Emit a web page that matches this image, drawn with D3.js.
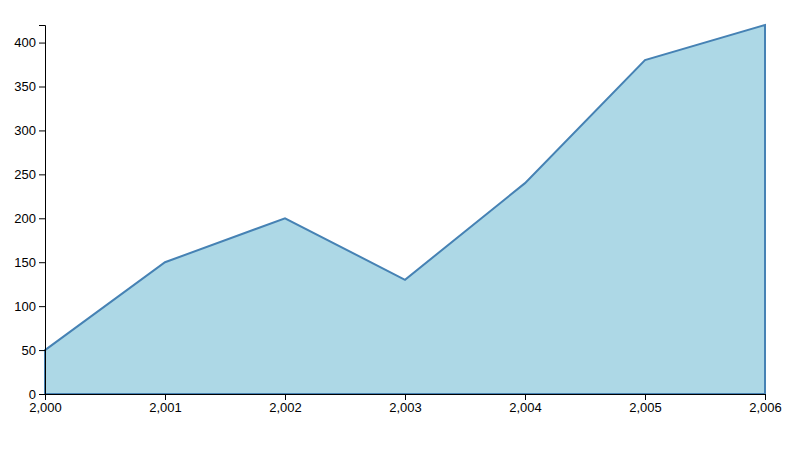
<!DOCTYPE html>
<html>
<head>
<meta charset="utf-8">
<script src="https://cdn.jsdelivr.net/npm/d3@7"></script>
<style>
  body { margin: 0; background: #fff; }
</style>
</head>
<body>
<div id="chart"></div>
<script>
  const years = [2000, 2001, 2002, 2003, 2004, 2005, 2006];
  const values = [50, 150, 200, 130, 240, 380, 420];

  const margin = { top: 25, right: 35, bottom: 56, left: 45 };
  const width = 800 - margin.left - margin.right;
  const height = 450 - margin.top - margin.bottom;

  const data = years.map((y, i) => ({ year: y, value: values[i] }));

  const svg = d3
    .select("#chart")
    .append("svg")
    .attr("width", 800)
    .attr("height", 450)
    .append("g")
    .attr("transform", `translate(${margin.left},${margin.top})`);

  const x = d3.scaleLinear().domain(d3.extent(years)).range([0, width]);
  const y = d3.scaleLinear().domain([0, d3.max(values)]).range([height, 0]);

  const area = d3
    .area()
    .x((d) => x(d.year))
    .y0(height)
    .y1((d) => y(d.value));

  svg
    .append("path")
    .datum(data)
    .attr("fill", "lightblue")
    .attr("stroke", "steelblue")
    .attr("stroke-width", 2)
    .attr("d", area);

  svg
    .append("g")
    .attr("transform", `translate(0,${height})`)
    .call(d3.axisBottom(x).ticks(6))
    .selectAll("text")
    .attr("font-size", "13px")
    .attr("font-family", "Liberation Sans, Arial, sans-serif");

  svg
    .append("g")
    .call(d3.axisLeft(y))
    .selectAll("text")
    .attr("font-size", "13px")
    .attr("font-family", "Liberation Sans, Arial, sans-serif");
</script>
</body>
</html>
